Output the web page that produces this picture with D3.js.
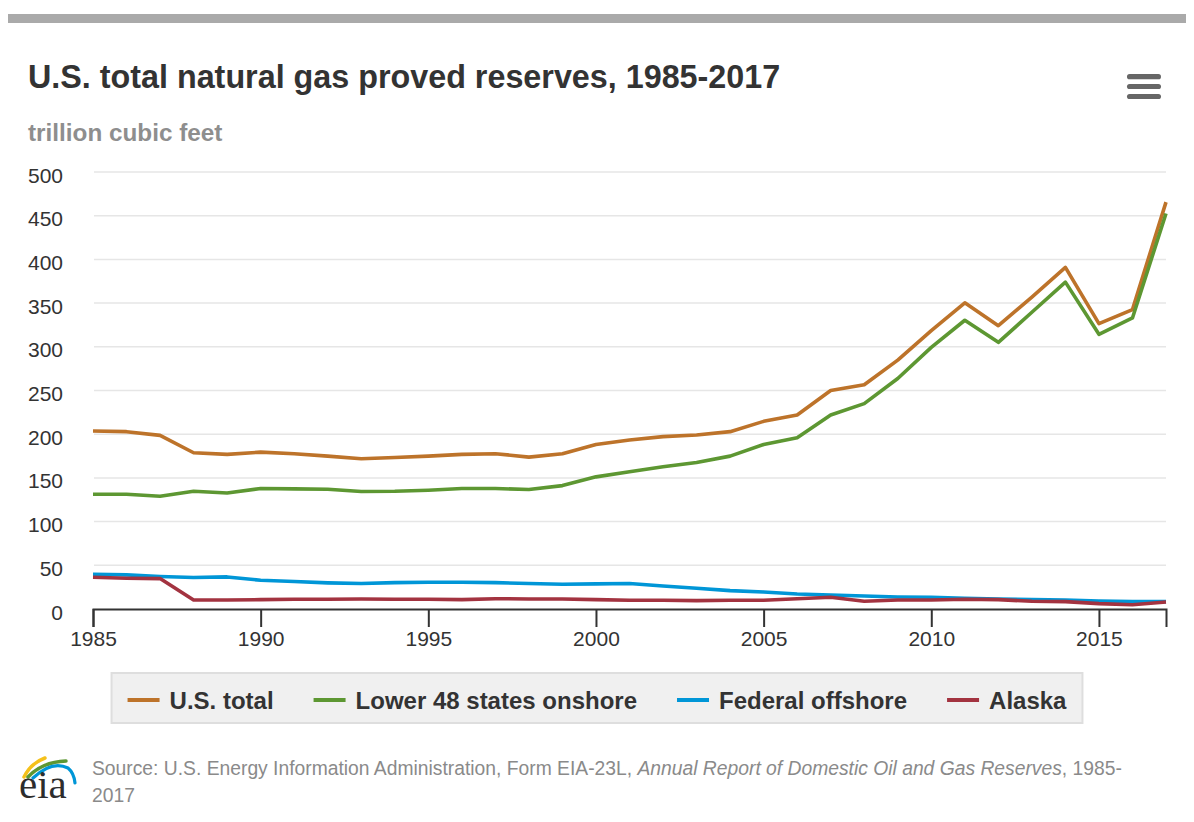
<!DOCTYPE html>
<html>
<head>
<meta charset="utf-8">
<script src="https://cdn.jsdelivr.net/npm/d3@7/dist/d3.min.js"></script>
<style>
  html, body { margin: 0; padding: 0; background: #fff; }
  svg { display: block; font-family: "Liberation Sans", Arial, Helvetica, sans-serif; }
</style>
</head>
<body>
<svg id="chart" width="1194" height="822"></svg>
<script>
const years = d3.range(1985, 2018);
const usTotal = [203.6, 202.9, 198.7, 178.8, 176.9, 179.5, 177.7, 174.9, 171.9, 173.4, 174.9, 176.9, 177.7, 173.8, 177.7, 188.3, 193.3, 197.2, 199.0, 202.9, 214.7, 222.0, 250.0, 256.5, 284.8, 318.5, 350.3, 324.2, 356.8, 390.8, 326.5, 342.6, 465.5];
const lower48 = [131.3, 131.3, 129.0, 134.7, 132.8, 137.8, 137.4, 137.0, 134.4, 134.7, 135.9, 137.8, 137.8, 136.7, 141.2, 151.2, 157.0, 162.7, 167.7, 174.9, 188.3, 196.0, 222.0, 235.0, 263.7, 299.4, 330.4, 305.1, 339.5, 374.0, 314.3, 333.0, 452.5];
const federalOffshore = [39.8, 39.0, 37.1, 36.0, 36.7, 32.9, 31.4, 29.9, 29.1, 30.2, 30.6, 30.6, 30.2, 29.1, 28.3, 28.7, 29.1, 26.4, 23.7, 21.0, 19.5, 17.2, 16.1, 14.9, 13.8, 13.4, 12.3, 11.5, 10.7, 10.3, 9.2, 8.4, 8.4];
const alaska = [36.4, 35.2, 34.8, 10.3, 10.3, 10.7, 11.1, 11.1, 11.5, 11.1, 11.1, 10.7, 11.8, 11.5, 11.5, 10.7, 10.0, 10.0, 9.6, 10.0, 10.0, 11.8, 13.4, 8.8, 10.3, 10.3, 11.1, 10.7, 8.8, 8.4, 6.1, 4.9, 8.0];
const seriesNames = ["U.S. total", "Lower 48 states onshore", "Federal offshore", "Alaska"];
const seriesColors = ["#bd732a", "#5d9732", "#0096d7", "#a33340"];
const yTicks = [0, 50, 100, 150, 200, 250, 300, 350, 400, 450, 500];
const xTicks = [1985, 1990, 1995, 2000, 2005, 2010, 2015];

const titleText = "U.S. total natural gas proved reserves, 1985-2017";
const subtitleText = "trillion cubic feet";

const svg = d3.select("#chart");
const W = 1194;

// top bar
svg.append("rect").attr("x", 8).attr("y", 14).attr("width", 1178).attr("height", 9).attr("fill", "#aaaaaa");

// title & subtitle
svg.append("text").attr("x", 28).attr("y", 88).attr("font-size", 32.3).attr("font-weight", "bold")
  .attr("fill", "#333333").text(titleText);
svg.append("text").attr("x", 28).attr("y", 141).attr("font-size", 24.3).attr("font-weight", "bold")
  .attr("fill", "#8e8e8e").text(subtitleText);

// menu icon
[76.7, 86.5, 96.5].forEach(cy => {
  svg.append("rect").attr("x", 1127).attr("y", cy - 2.6).attr("width", 34).attr("height", 5.2)
    .attr("rx", 2.6).attr("fill", "#666666");
});

const x = d3.scaleLinear().domain([1985, 2017]).range([93, 1166]);
const y = d3.scaleLinear().domain([0, 500]).range([609, 172]);

// gridlines
const grid = svg.append("g");
grid.selectAll("line").data(yTicks.filter(d => d > 0)).join("line")
  .attr("x1", 94).attr("x2", 1166)
  .attr("y1", d => y(d)).attr("y2", d => y(d))
  .attr("stroke", "#e6e6e6").attr("stroke-width", 1.5);

// y labels
svg.append("g").selectAll("text").data(yTicks).join("text")
  .attr("x", 63).attr("y", d => y(d) + 10.5)
  .attr("text-anchor", "end").attr("font-size", 21).attr("fill", "#333333")
  .text(d => d);

// x axis
const xAxis = d3.axisBottom(x).tickValues(xTicks).tickFormat(d3.format("d")).tickSize(18).tickPadding(4);
const gx = svg.append("g").attr("transform", `translate(0,${y(0)})`).call(xAxis);
gx.select(".domain").attr("stroke", "#333333").attr("stroke-width", 2);
gx.selectAll(".tick line").attr("stroke", "#333333").attr("stroke-width", 2);
gx.selectAll(".tick text").attr("font-size", 21).attr("fill", "#333333")
  .attr("font-family", "'Liberation Sans', Arial, sans-serif");

// lines
const allSeries = [usTotal, lower48, federalOffshore, alaska];
const line = d3.line().x((d, i) => x(years[i])).y(d => y(d));
allSeries.forEach((s, k) => {
  svg.append("path").datum(s).attr("d", line)
    .attr("fill", "none").attr("stroke", seriesColors[k]).attr("stroke-width", 3.6)
    .attr("stroke-linejoin", "round").attr("stroke-linecap", "butt");
});

// legend
const legend = svg.append("g");
const legendBox = legend.append("rect").attr("y", 673).attr("height", 50)
  .attr("fill", "#f0f0f0").attr("stroke", "#dedede").attr("stroke-width", 2);
let cx = 0;
const itemsG = legend.append("g");
seriesNames.forEach((name, k) => {
  const g = itemsG.append("g").attr("transform", `translate(${cx},0)`);
  g.append("line").attr("x1", 0).attr("x2", 32).attr("y1", 700).attr("y2", 700)
    .attr("stroke", seriesColors[k]).attr("stroke-width", 4);
  const t = g.append("text").attr("x", 42).attr("y", 708.5).attr("font-size", 24)
    .attr("font-weight", "bold").attr("fill", "#333333").text(name);
  cx += 42 + t.node().getComputedTextLength() + 40;
});
const itemsW = cx - 40;
const boxW = itemsW + 32;
const boxX = (W - boxW) / 2;
legendBox.attr("x", boxX).attr("width", boxW);
itemsG.attr("transform", `translate(${boxX + 16},0)`);

// source
const src = svg.append("text").attr("x", 92).attr("y", 775).attr("font-size", 19.3).attr("fill", "#8a8a8a");
src.append("tspan").text("Source: U.S. Energy Information Administration, Form EIA-23L, ");
src.append("tspan").attr("font-style", "italic").text("Annual Report of Domestic Oil and Gas Reserves");
src.append("tspan").text(", 1985-");
svg.append("text").attr("x", 92).attr("y", 802).attr("font-size", 19.3).attr("fill", "#8a8a8a").text("2017");

// eia logo
const logo = svg.append("g");
logo.append("path").attr("d", "M24,777 Q31,763 45,758").attr("fill", "none").attr("stroke", "#f5c11b").attr("stroke-width", 3.5).attr("stroke-linecap", "round");
logo.append("path").attr("d", "M28,777 Q42,762 66,761").attr("fill", "none").attr("stroke", "#5d9732").attr("stroke-width", 3.5).attr("stroke-linecap", "round");
logo.append("path").attr("d", "M33,778 Q52,760 68,768 Q74,773 75,783").attr("fill", "none").attr("stroke", "#0096d7").attr("stroke-width", 3.2).attr("stroke-linecap", "round");
logo.append("text").attr("x", 19).attr("y", 798).attr("font-size", 41)
  .attr("font-family", "'Liberation Serif', 'Times New Roman', serif").attr("fill", "#2d2d2d").text("eia");
</script>
</body>
</html>
